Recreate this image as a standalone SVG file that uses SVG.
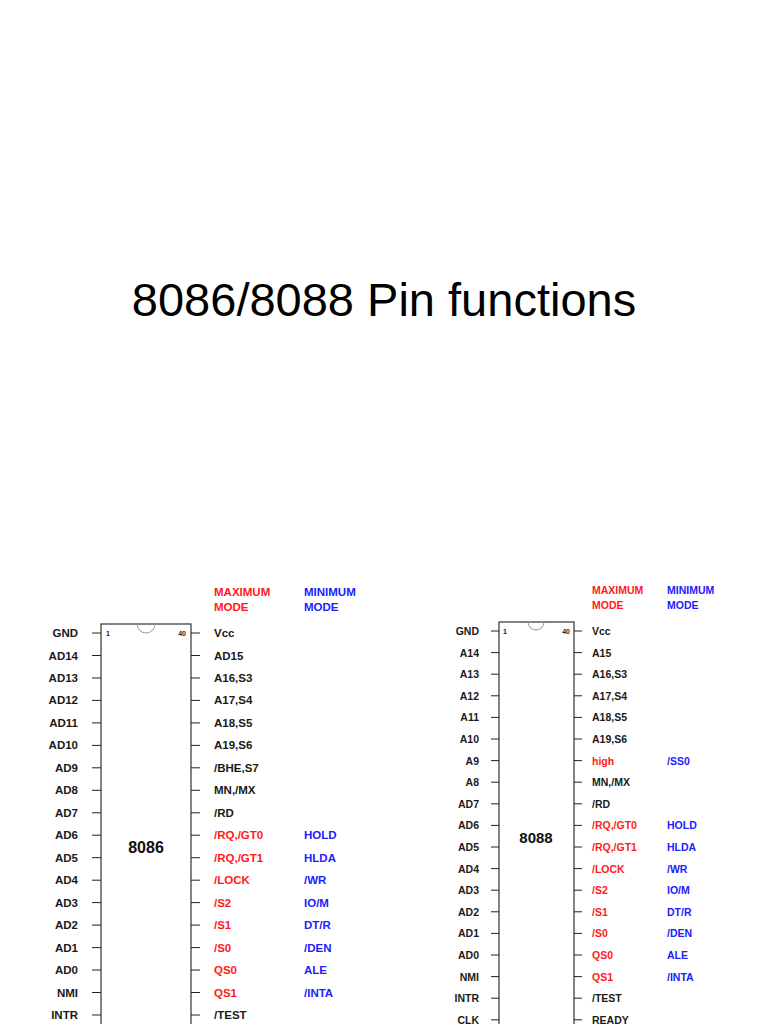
<svg xmlns="http://www.w3.org/2000/svg" width="768" height="1024" viewBox="0 0 768 1024">
<style>
text{font-family:"Liberation Sans",Arial,sans-serif;font-weight:bold}
.a{font-size:11.5px;fill:#1a1a1a}
.b{font-size:10.5px;fill:#1a1a1a}
.r{fill:#ff1a1a}.u{fill:#2020ff}
.e{text-anchor:end}
.p{stroke:#222;stroke-width:1}
.c{fill:#fff;stroke:#333;stroke-width:1.2}
.n{font-size:7px;fill:#222}
</style>
<rect width="768" height="1024" fill="#fff"/>
<text x="384" y="316" text-anchor="middle" style="font-weight:normal;font-size:47px;fill:#000">8086/8088 Pin functions</text>
<g id="chip8086">
<rect class="c" x="101" y="624" width="90" height="420"/>
<path d="M137,624 A9,9 0 0 0 155,624" fill="none" stroke="#999"/>
<text class="n" x="106" y="636">1</text><text class="n e" x="186" y="636">40</text>
<text x="146" y="853" text-anchor="middle" style="font-size:16px;fill:#111">8086</text>
<text class="a r" x="214" y="596">MAXIMUM</text><text class="a r" x="214" y="611">MODE</text>
<text class="a u" x="304" y="596">MINIMUM</text><text class="a u" x="304" y="611">MODE</text>
<g class="p">
<path d="M92,633h9M92,655.5h9M92,678h9M92,700.4h9M92,722.9h9M92,745.4h9M92,767.8h9M92,790.3h9M92,812.8h9M92,835.2h9M92,857.7h9M92,880.2h9M92,902.6h9M92,925.1h9M92,947.6h9M92,970h9M92,992.5h9M92,1015h9"/>
<path d="M191,633h9M191,655.5h9M191,678h9M191,700.4h9M191,722.9h9M191,745.4h9M191,767.8h9M191,790.3h9M191,812.8h9M191,835.2h9M191,857.7h9M191,880.2h9M191,902.6h9M191,925.1h9M191,947.6h9M191,970h9M191,992.5h9M191,1015h9"/>
</g>
<text class="a e" x="78" y="637">GND</text><text class="a e" x="78" y="659.5">AD14</text><text class="a e" x="78" y="682">AD13</text><text class="a e" x="78" y="704.4">AD12</text><text class="a e" x="78" y="726.9">AD11</text><text class="a e" x="78" y="749.4">AD10</text><text class="a e" x="78" y="771.8">AD9</text><text class="a e" x="78" y="794.3">AD8</text><text class="a e" x="78" y="816.8">AD7</text><text class="a e" x="78" y="839.2">AD6</text><text class="a e" x="78" y="861.7">AD5</text><text class="a e" x="78" y="884.2">AD4</text><text class="a e" x="78" y="906.6">AD3</text><text class="a e" x="78" y="929.1">AD2</text><text class="a e" x="78" y="951.6">AD1</text><text class="a e" x="78" y="974">AD0</text><text class="a e" x="78" y="996.5">NMI</text><text class="a e" x="78" y="1019">INTR</text>
<text class="a" x="214" y="637">Vcc</text><text class="a" x="214" y="659.5">AD15</text><text class="a" x="214" y="682">A16,S3</text><text class="a" x="214" y="704.4">A17,S4</text><text class="a" x="214" y="726.9">A18,S5</text><text class="a" x="214" y="749.4">A19,S6</text><text class="a" x="214" y="771.8">/BHE,S7</text><text class="a" x="214" y="794.3">MN,/MX</text><text class="a" x="214" y="816.8">/RD</text>
<text class="a r" x="214" y="839.2">/RQ,/GT0</text><text class="a r" x="214" y="861.7">/RQ,/GT1</text><text class="a r" x="214" y="884.2">/LOCK</text><text class="a r" x="214" y="906.6">/S2</text><text class="a r" x="214" y="929.1">/S1</text><text class="a r" x="214" y="951.6">/S0</text><text class="a r" x="214" y="974">QS0</text><text class="a r" x="214" y="996.5">QS1</text><text class="a" x="214" y="1019">/TEST</text>
<text class="a u" x="304" y="839.2">HOLD</text><text class="a u" x="304" y="861.7">HLDA</text><text class="a u" x="304" y="884.2">/WR</text><text class="a u" x="304" y="906.6">IO/M</text><text class="a u" x="304" y="929.1">DT/R</text><text class="a u" x="304" y="951.6">/DEN</text><text class="a u" x="304" y="974">ALE</text><text class="a u" x="304" y="996.5">/INTA</text>
</g>
<g id="chip8088">
<rect class="c" x="499" y="622" width="75" height="420"/>
<path d="M528,622 A8,8 0 0 0 544,622" fill="none" stroke="#999"/>
<text class="n" x="503" y="634">1</text><text class="n e" x="570" y="634">40</text>
<text x="536" y="843" text-anchor="middle" style="font-size:15px;fill:#111">8088</text>
<text class="b r" x="592" y="594">MAXIMUM</text><text class="b r" x="592" y="609">MODE</text>
<text class="b u" x="667" y="594">MINIMUM</text><text class="b u" x="667" y="609">MODE</text>
<g class="p">
<path d="M491,631h8M491,652.6h8M491,674.2h8M491,695.8h8M491,717.4h8M491,739h8M491,760.6h8M491,782.2h8M491,803.8h8M491,825.4h8M491,847h8M491,868.6h8M491,890.2h8M491,911.8h8M491,933.4h8M491,955h8M491,976.6h8M491,998.2h8M491,1019.8h8"/>
<path d="M574,631h8M574,652.6h8M574,674.2h8M574,695.8h8M574,717.4h8M574,739h8M574,760.6h8M574,782.2h8M574,803.8h8M574,825.4h8M574,847h8M574,868.6h8M574,890.2h8M574,911.8h8M574,933.4h8M574,955h8M574,976.6h8M574,998.2h8M574,1019.8h8"/>
</g>
<text class="b e" x="479" y="635">GND</text><text class="b e" x="479" y="656.6">A14</text><text class="b e" x="479" y="678.2">A13</text><text class="b e" x="479" y="699.8">A12</text><text class="b e" x="479" y="721.4">A11</text><text class="b e" x="479" y="743">A10</text><text class="b e" x="479" y="764.6">A9</text><text class="b e" x="479" y="786.2">A8</text><text class="b e" x="479" y="807.8">AD7</text><text class="b e" x="479" y="829.4">AD6</text><text class="b e" x="479" y="851">AD5</text><text class="b e" x="479" y="872.6">AD4</text><text class="b e" x="479" y="894.2">AD3</text><text class="b e" x="479" y="915.8">AD2</text><text class="b e" x="479" y="937.4">AD1</text><text class="b e" x="479" y="959">AD0</text><text class="b e" x="479" y="980.6">NMI</text><text class="b e" x="479" y="1002.2">INTR</text><text class="b e" x="479" y="1023.8">CLK</text>
<text class="b" x="592" y="635">Vcc</text><text class="b" x="592" y="656.6">A15</text><text class="b" x="592" y="678.2">A16,S3</text><text class="b" x="592" y="699.8">A17,S4</text><text class="b" x="592" y="721.4">A18,S5</text><text class="b" x="592" y="743">A19,S6</text><text class="b r" x="592" y="764.6">high</text><text class="b" x="592" y="786.2">MN,/MX</text><text class="b" x="592" y="807.8">/RD</text>
<text class="b r" x="592" y="829.4">/RQ,/GT0</text><text class="b r" x="592" y="851">/RQ,/GT1</text><text class="b r" x="592" y="872.6">/LOCK</text><text class="b r" x="592" y="894.2">/S2</text><text class="b r" x="592" y="915.8">/S1</text><text class="b r" x="592" y="937.4">/S0</text><text class="b r" x="592" y="959">QS0</text><text class="b r" x="592" y="980.6">QS1</text><text class="b" x="592" y="1002.2">/TEST</text><text class="b" x="592" y="1023.8">READY</text>
<text class="b u" x="667" y="764.6">/SS0</text><text class="b u" x="667" y="829.4">HOLD</text><text class="b u" x="667" y="851">HLDA</text><text class="b u" x="667" y="872.6">/WR</text><text class="b u" x="667" y="894.2">IO/M</text><text class="b u" x="667" y="915.8">DT/R</text><text class="b u" x="667" y="937.4">/DEN</text><text class="b u" x="667" y="959">ALE</text><text class="b u" x="667" y="980.6">/INTA</text>
</g>
</svg>
